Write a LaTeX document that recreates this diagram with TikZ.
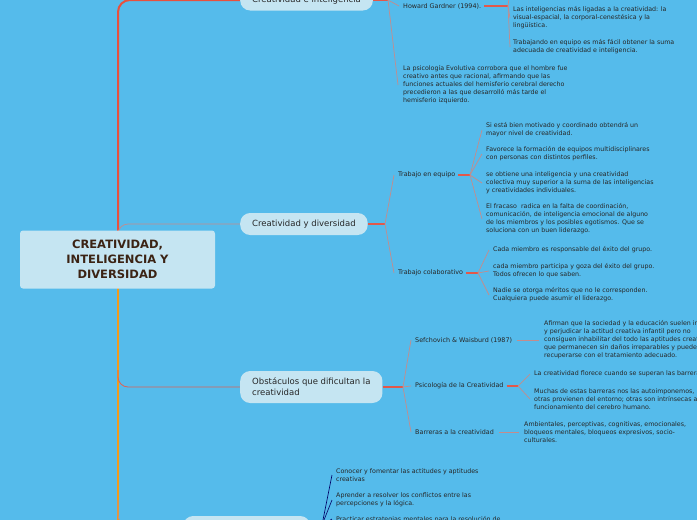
\documentclass[tikz,border=0pt]{standalone}
\usepackage{fontspec}
\setmainfont{DejaVu Sans}
\begin{document}
\begin{tikzpicture}[x=1pt,y=-1pt,
  leaf/.style={anchor=west,align=left,inner sep=0pt,font=\fontsize{6.3}{8}\selectfont,text=black!85},
  mid/.style={anchor=west,align=left,inner sep=0pt,font=\fontsize{6.4}{8}\selectfont,text=black!85},
  main/.style={fill=nodec,rounded corners=10pt,anchor=west,align=left,inner xsep=12pt,font=\fontsize{8.5}{11}\selectfont,text=black!85},
  br/.style={draw=linec,line width=0.7pt},
  stub/.style={draw=stubc,line width=1.2pt}]
\definecolor{bg}{HTML}{55BBEB}
\definecolor{nodec}{HTML}{C5E5F2}
\definecolor{linec}{HTML}{C48C8C}
\definecolor{stubc}{HTML}{E2584A}
\definecolor{redl}{HTML}{E8503E}
\definecolor{orl}{HTML}{F39A1C}
\definecolor{rootc}{HTML}{3B2314}
\fill[bg] (0,0) rectangle (697,520);
\useasboundingbox (0,0) rectangle (697,520);
\clip (0,0) rectangle (697,520);
% spine
\draw[redl,line width=2pt,rounded corners=12pt] (118,235) -- (118,0) -- (240,0);
\draw[orl,line width=2pt] (118,288) -- (118,520);
\draw[br,rounded corners=10pt] (118,235) -- (118,224) -- (240,224);
\draw[draw=stubc!80!linec,line width=0.8pt,rounded corners=10pt] (118,370) -- (118,387) -- (240,387);
\draw[br,rounded corners=10pt] (118,500) -- (118,525) -- (183,525);
% root
\node[fill=nodec,rounded corners=3pt,minimum width=195pt,minimum height=58pt,align=center,font=\bfseries\fontsize{11.5}{15}\selectfont,text=rootc] (root) at (117.5,259.5) {CREATIVIDAD,\\INTELIGENCIA Y\\DIVERSIDAD};
% main nodes
\node[main,minimum height=21pt] (ci) at (240,0) {Creatividad e inteligencia};
\node[main,minimum height=22pt] (cd) at (240,224) {Creatividad y diversidad};
\node[main,minimum height=32pt] (ob) at (240,387) {Obstáculos que dificultan la\\creatividad};
\node[main,minimum height=22pt,minimum width=127pt] (bt) at (183,527) {};
% Creatividad e inteligencia
\coordinate (f1) at (388,0);
\draw[stub] (ci.east) -- (f1);
\node[mid] (hg) at (403,6) {Howard Gardner (1994).};
\node[leaf] (pe) at (403,85) {La psicología Evolutiva corrobora que el hombre fue\\creativo antes que racional, afirmando que las\\funciones actuales del hemisferio cerebral derecho\\precedieron a las que desarrolló más tarde el\\hemisferio izquierdo.};
\draw[br] (f1) -- (399,6);
\draw[br] (f1) -- (398,85);
\coordinate (f2) at (508,6);
\draw[stub] (hg.east)++(3,0) -- (f2);
\node[leaf] (li) at (513,18) {Las inteligencias más ligadas a la creatividad: la\\visual-espacial, la corporal-cenestésica y la\\lingüística.};
\node[leaf] (tq) at (513,47) {Trabajando en equipo es más fácil obtener la suma\\adecuada de creatividad e inteligencia.};
\draw[br] (f2) -- (510,-10);
\draw[br] (f2) -- (510,18);
\draw[br] (f2) -- (510,47);
% Creatividad y diversidad
\coordinate (f3) at (385,224);
\draw[stub] (cd.east) -- (f3);
\node[mid] (te) at (398,175) {Trabajo en equipo};
\node[mid] (tc) at (398,273) {Trabajo colaborativo};
\draw[br] (f3) -- (394,175);
\draw[br] (f3) -- (394,273);
\coordinate (f4) at (470,175);
\draw[stub] (te.east)++(3,0) -- (f4);
\node[leaf] (e1) at (486,130) {Si está bien motivado y coordinado obtendrá un\\mayor nivel de creatividad.};
\node[leaf] (e2) at (486,154) {Favorece la formación de equipos multidisciplinares\\con personas con distintos perfiles.};
\node[leaf] (e3) at (486,183) {se obtiene una inteligencia y una creatividad\\colectiva muy superior a la suma de las inteligencias\\y creatividades individuales.};
\node[leaf] (e4) at (486,219) {El fracaso\ \ radica en la falta de coordinación,\\comunicación, de inteligencia emocional de alguno\\de los miembros y los posibles egotismos. Que se\\soluciona con un buen liderazgo.};
\foreach \y in {130,154,183,219} \draw[br] (f4) -- (482,\y);
\coordinate (f5) at (478,273);
\draw[stub] (tc.east)++(3,0) -- (f5);
\node[leaf] (c1) at (493,250) {Cada miembro es responsable del éxito del grupo.};
\node[leaf] (c2) at (493,271) {cada miembro participa y goza del éxito del grupo.\\Todos ofrecen lo que saben.};
\node[leaf] (c3) at (493,295) {Nadie se otorga méritos que no le corresponden.\\Cualquiera puede asumir el liderazgo.};
\foreach \y in {250,271,295} \draw[br] (f5) -- (489,\y);
% Obstaculos
\coordinate (f6) at (403,387);
\draw[stub] (ob.east) -- (f6);
\node[mid] (se) at (415,340) {Sefchovich \& Waisburd (1987)};
\node[mid] (ps) at (415,386) {Psicología de la Creatividad};
\node[mid] (ba) at (415,432) {Barreras a la creatividad};
\draw[br] (f6) -- (411,340);
\draw[br] (f6) -- (411,386);
\draw[br] (f6) -- (411,432);
\node[leaf] (s1) at (544,340) {Afirman que la sociedad y la educación suelen inhibir\\y perjudicar la actitud creativa infantil pero no\\consiguen inhabilitar del todo las aptitudes creativas\\que permanecen sin daños irreparables y pueden\\recuperarse con el tratamiento adecuado.};
\draw[br] (se.east)++(5,0) -- (539,340);
\coordinate (f7) at (518,386);
\draw[stub] (ps.east)++(3,0) -- (f7);
\node[leaf] (p1) at (534,374) {La creatividad florece cuando se superan las barreras.};
\node[leaf] (p2) at (534,399) {Muchas de estas barreras nos las autoimponemos,\\otras provienen del entorno; otras son intrínsecas al\\funcionamiento del cerebro humano.};
\draw[br] (f7) -- (530,374);
\draw[br] (f7) -- (530,399);
\node[leaf] (b1) at (524,432) {Ambientales, perceptivas, cognitivas, emocionales,\\bloqueos mentales, bloqueos expresivos, socio-\\culturales.};
\draw[br] (ba.east)++(5,0) -- (519,432);
% bottom
\coordinate (f8) at (322,525);
\node[leaf] (d1) at (336,475) {Conocer y fomentar las actitudes y aptitudes\\creativas};
\node[leaf] (d2) at (336,500) {Aprender a resolver los conflictos entre las\\percepciones y la lógica.};
\node[leaf,anchor=north west] (d3) at (336,516) {Practicar estrategias mentales para la resolución de};
\draw[draw=black!60!blue,line width=0.6pt] (f8) -- (332,475);
\draw[draw=black!60!blue,line width=0.6pt] (f8) -- (332,500);
\draw[draw=black!60!blue,line width=0.6pt] (f8) -- (332,519);
\end{tikzpicture}
\end{document}
